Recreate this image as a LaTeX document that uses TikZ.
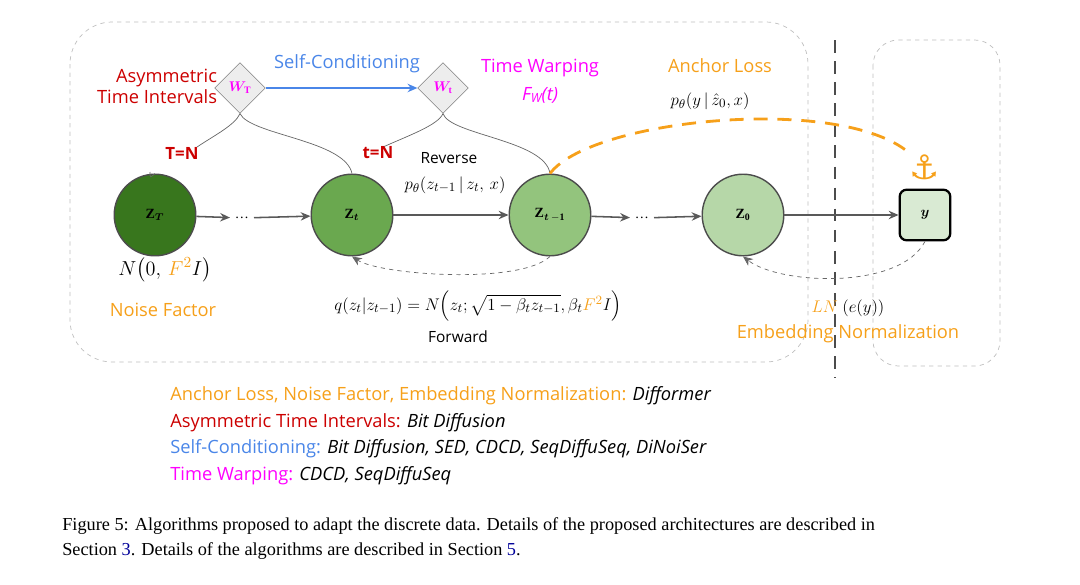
\documentclass[tikz,border=0pt]{standalone}
\usepackage{fontspec}
\usepackage{amsmath,bm}
\setmainfont{Liberation Serif}
\newfontfamily\labelfont{Open Sans}
\newfontfamily\symfont{DejaVu Sans}
\usetikzlibrary{shapes.geometric,arrows.meta}
\definecolor{zT}{HTML}{38761D}
\definecolor{zt}{HTML}{6AA84F}
\definecolor{ztm}{HTML}{93C47D}
\definecolor{zzero}{HTML}{B6D7A8}
\definecolor{ybox}{HTML}{D9EAD3}
\definecolor{orng}{HTML}{F6A01A}
\definecolor{asym}{HTML}{CC0000}
\definecolor{selfc}{HTML}{4A86E8}
\definecolor{warp}{HTML}{FF00FF}

\begin{document}
\begin{tikzpicture}[x=0.025cm,y=-0.025cm,>={Stealth[length=7pt,width=6pt]}]
    \tikzstyle{latent}=[circle,draw=black!70,line width=1pt,minimum size=58pt,inner sep=0pt]
    \tikzstyle{weight}=[diamond,draw=black!50,fill=black!7,minimum size=36pt,inner sep=0pt]
    \tikzstyle{flow}=[->,draw=black!65,line width=1.1pt]
    \tikzstyle{back}=[->,draw=black!60,dashed,line width=0.5pt]
    \tikzstyle{link}=[draw=black!60,line width=0.5pt]
    \tikzstyle{lab}=[font=\labelfont\fontsize{13}{15}\selectfont]
    \tikzstyle{legend}=[lab,anchor=west,inner sep=0pt]
    \tikzstyle{frame}=[draw=black!25,dashed,rounded corners=30pt,line width=0.5pt]

    \useasboundingbox (0,0) rectangle (1080,585);

    % Frames and the split
    \draw[frame] (70,22) rectangle (808,362);
    \draw[frame,rounded corners=18pt] (873,40) rectangle (1000,366);
    \draw[black!70,dashed,line width=1.8pt,dash pattern=on 9pt off 6pt] (835,40) -- (835,378);

    % Latent chain
    \node[latent,fill=zT] (ZT) at (155,215) {$\mathbf{Z}_{\boldsymbol{T}}$};
    \node (D1) at (242,218) {\dots};
    \node[latent,fill=zt] (Zt) at (352,215) {$\mathbf{Z}_{\boldsymbol{t}}$};
    \node[latent,fill=ztm] (Ztm) at (550,215) {$\mathbf{Z}_{\boldsymbol{t}\,\mathbf{-1}}$};
    \node (D2) at (642,218) {\dots};
    \node[latent,fill=zzero] (Z0) at (743,215) {$\mathbf{Z}_{\mathbf{0}}$};
    \node[draw=black,line width=1.6pt,fill=ybox,rounded corners=5pt,minimum size=36pt] (Y) at (925,215) {$\boldsymbol{y}$};

    \draw[flow] (ZT) -- (D1);
    \draw[flow] (D1) -- (Zt);
    \draw[flow] (Zt) -- ++(50,0) -- (Ztm);
    \draw[flow] (Ztm) -- (D2);
    \draw[flow] (D2) -- (Z0);
    \draw[flow] (Z0) -- (Y);

    % Forward (dashed back arrows)
    \draw[back] (Ztm.south) .. controls (520,285) and (380,275) .. (Zt.south);
    \draw[back] (Y.south) .. controls (900,290) and (780,285) .. (Z0.south);

    % Weights and self-conditioning
    \node[weight] (WT) at (240,88) {\textcolor{warp}{$\boldsymbol{W}_{\mathbf{T}}$}};
    \node[weight] (Wt) at (443,88) {\textcolor{warp}{$\boldsymbol{W}_{\mathbf{t}}$}};
    \draw[->,selfc,line width=1.1pt] (WT) -- (Wt);

    \coordinate (cT) at (197,147);
    \coordinate (ct) at (383,147);
    \draw[link] (WT.south) .. controls (235,125) and (215,135) .. (cT);
    \draw[link] (WT.south) .. controls (250,135) and (345,140) .. (Zt.north);
    \draw[link] (Wt.south) .. controls (438,125) and (410,135) .. (ct);
    \draw[link] (Wt.south) .. controls (450,135) and (545,140) .. (Ztm.north);
    \coordinate (sT) at (150,172);
    \draw[link] (sT) .. controls (150,178) .. (ZT.north);

    % Anchor loss
    \node[orng,font=\symfont\fontsize{24}{24}\selectfont] (anc) at (925,167) {⚓};
    \draw[orng,dashed,line width=2pt,dash pattern=on 10pt off 7pt] (Ztm.north) .. controls (590,120) and (830,95) .. (anc.north west);

    % Labels
    \node[lab,asym,align=right,anchor=east] at (222,86) {Asymmetric\\Time Intervals};
    \node[lab,selfc] at (347,64) {Self-Conditioning};
    \node[lab,warp] at (540,68) {Time Warping};
    \node[lab,warp] at (540,95) {\itshape F\raisebox{-0.3ex}{\fontsize{9}{9}\selectfont W}(t)};
    \node[lab,orng] at (720,66) {Anchor Loss};
    \node[font=\fontsize{13}{15}\selectfont] at (710,101) {$p_\theta(y\,|\,\hat z_0,x)$};
    \node[lab,asym,font=\labelfont\bfseries\fontsize{12}{14}\selectfont] at (182,153) {T=N};
    \node[lab,asym,font=\labelfont\bfseries\fontsize{12}{14}\selectfont] at (378,153) {t=N};
    \node[lab,font=\labelfont\fontsize{11}{13}\selectfont] at (449,158) {Reverse};
    \node[font=\fontsize{13}{15}\selectfont] at (455,185) {$p_\theta(z_{t-1}\,|\,z_t,\,x)$};
    \node[font=\fontsize{15}{17}\selectfont] at (165,270) {$N\big(0,\,\textcolor{orng}{F^2}I\big)$};
    \node[lab,orng] at (163,310) {Noise Factor};
    \node[font=\fontsize{13}{15}\selectfont] at (478,306) {$q(z_t|z_{t-1})=N\Big(z_t;\sqrt{1-\beta_t z_{t-1}},\beta_t\textcolor{orng}{F^2}I\Big)$};
    \node[lab,font=\labelfont\fontsize{11}{13}\selectfont] at (458,337) {Forward};
    \node[font=\fontsize{13}{15}\selectfont] at (848,308) {\textcolor{orng}{$LN$} $(e(y))$};
    \node[lab,orng] at (848,334) {Embedding Normalization};

    % Legend
    \node[legend] at (170,396) {\textcolor{orng}{Anchor Loss, Noise Factor, Embedding Normalization:} \itshape Difformer};
    \node[legend] at (170,423) {\textcolor{asym}{Asymmetric Time Intervals:} \itshape Bit Diffusion};
    \node[legend] at (170,449) {\textcolor{selfc}{Self-Conditioning:} \itshape Bit Diffusion, SED, CDCD, SeqDiffuSeq, DiNoiSer};
    \node[legend] at (170,476) {\textcolor{warp}{Time Warping:} \itshape CDCD, SeqDiffuSeq};

    % Caption
    \node[anchor=west,inner sep=0pt,font=\fontsize{13}{15}\selectfont] at (62,526) {Figure 5: Algorithms proposed to adapt the discrete data. Details of the proposed architectures are described in};
    \node[anchor=west,inner sep=0pt,font=\fontsize{13}{15}\selectfont] at (62,551) {Section \textcolor{blue!60!black}{3}. Details of the algorithms are described in Section \textcolor{blue!60!black}{5}.};
\end{tikzpicture}
\end{document}
